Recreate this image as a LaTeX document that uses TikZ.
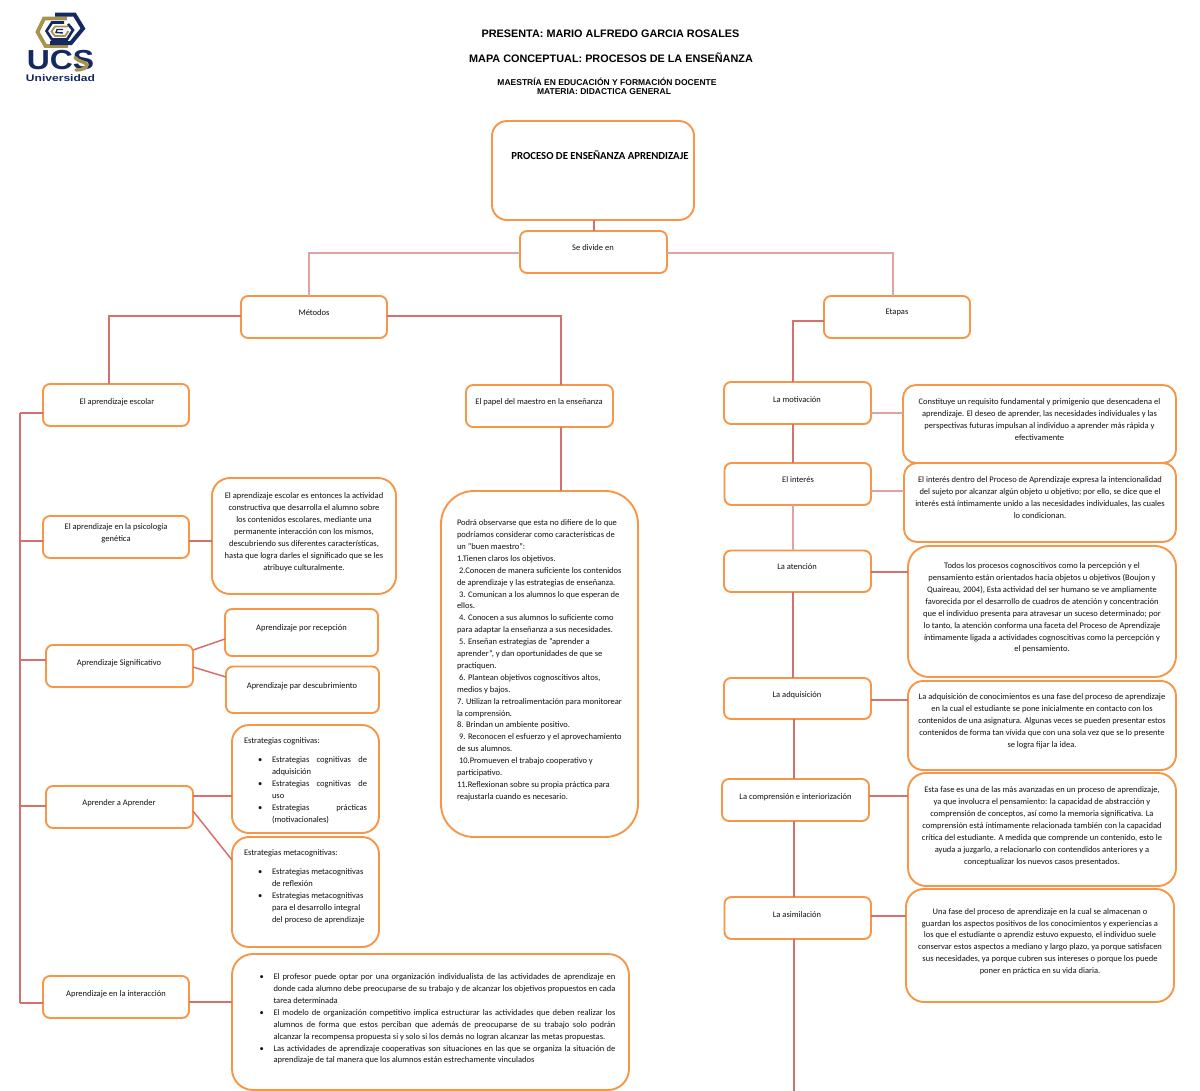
\documentclass[tikz,border=0pt]{standalone}
\usepackage{fontspec}
\setmainfont{Carlito}
\newfontfamily\headfont{Liberation Sans}
\definecolor{boxor}{HTML}{F79646}
\definecolor{connred}{HTML}{D4716F}
\definecolor{connpale}{HTML}{DFA3A1}
\definecolor{navyucs}{HTML}{14295F}
\definecolor{golducs}{HTML}{A8924C}
\definecolor{inktxt}{HTML}{111111}
\tikzset{
  boxshape/.style={draw=boxor,line width=1.9bp,inner sep=0pt,outer sep=0pt,fill=white},
  txtbase/.style={inner sep=0pt,outer sep=0pt,text=inktxt,font=\fontsize{8.5bp}{11.9bp}\selectfont,yshift=5.3bp,execute at begin node=\strut},
  txtc/.style={txtbase,anchor=north,align=center},
  txtl/.style={txtbase,anchor=north west,align=left},
  txtcm/.style={txtc,yshift=-2bp},
  txtlm/.style={txtl,yshift=-2bp},
  headtxt/.style={inner sep=0pt,outer sep=0pt,text=black,anchor=center},
  conn/.style={draw=connred,line width=1.5bp},
  connp/.style={draw=connpale,line width=1.5bp},
  loganavy/.style={draw=navyucs,line width=3.2bp,miter limit=6},
  logagold/.style={draw=golducs,line width=3.8bp,miter limit=6},
}
\newcommand{\bx}[6]{\node[boxshape,rounded corners=#6 bp,minimum width={(#4-#2)*1bp},minimum height={(#5-#3)*1bp}] (#1) at ({(#2+#4)/2},{(#3+#5)/2}) {};}
\newcommand{\jw}[2]{\makebox[#1bp][s]{#2}}
\newcommand{\bu}{\makebox[14.5bp][l]{\hspace{0.5bp}•}}
\newcommand{\nb}{\makebox[14.5bp]{}}
\begin{document}
\begin{tikzpicture}[x=1bp,y=-1bp]
\useasboundingbox (0,0) rectangle (1200,1091);
\fill[white] (0,0) rectangle (1200,1091);
% logo
\draw[logagold] (67,18.5) -- (44,18.5) -- (37.5,32) -- (45.5,46) -- (68,46);
\draw[loganavy,line width=4bp] (55,14.5) -- (74.5,14.5) -- (83,28.5) -- (71,43) -- (50,43);
\draw[loganavy,line width=2.6bp] (64,22.5) -- (52,22.5) -- (46.5,31) -- (52,39.5) -- (67,39.5) -- (73,30) -- (68,24);
\draw[logagold,line width=1.8bp] (68,26.5) -- (55,26.5) -- (51.5,31.5) -- (55,36) -- (65,36) -- (68.5,31);
\draw[loganavy,line width=1.4bp] (63,29.5) -- (57,29.5) -- (56,32.5) -- (63,33);
\node[headtxt,text=navyucs,font=\headfont\bfseries\fontsize{27.5bp}{28bp}\selectfont] (logoucs) at (60.5,60.5) {\scalebox{1.16}[1]{UCS}};
\draw[golducs,line width=3.4bp,line cap=round] (75,57.5) .. controls (78,62) and (85,61) .. (87,65) .. controls (87,68) and (82,70) .. (76,70);
\node[headtxt,text=navyucs,font=\headfont\bfseries\fontsize{9.5bp}{10bp}\selectfont] (logouni) at (60.5,78) {\scalebox{1.27}[1]{Universidad}};
% titles
\node[headtxt,font=\headfont\bfseries\fontsize{10.85bp}{12bp}\selectfont] (t1) at (610.5,33.5) {PRESENTA: MARIO ALFREDO GARCIA ROSALES};
\node[headtxt,font=\headfont\bfseries\fontsize{10.85bp}{12bp}\selectfont] (t2) at (611,58) {MAPA CONCEPTUAL: PROCESOS DE LA ENSEÑANZA};
\node[headtxt,font=\headfont\bfseries\fontsize{8.5bp}{11bp}\selectfont] (t3) at (607,81.5) {MAESTRÍA EN EDUCACIÓN Y FORMACIÓN DOCENTE};
\node[headtxt,font=\headfont\bfseries\fontsize{8.5bp}{11bp}\selectfont] (t4) at (604,92) {MATERIA: DIDACTICA GENERAL};
% boxes
\bx{proc}{492}{121}{694}{220}{15}
\bx{divide}{520}{231}{667}{273}{7}
\bx{metodos}{241}{296}{387}{338}{7}
\bx{etapas}{824}{296}{970}{338}{7}
\bx{escolar}{43}{384}{189}{426}{7}
\bx{psico}{43}{516}{189}{558}{7}
\bx{psicotx}{212}{478}{396}{594}{18}
\bx{signif}{46}{645}{193}{687}{7}
\bx{recep}{225}{609}{378}{656}{7}
\bx{descub}{226}{666.5}{379}{713}{7}
\bx{aprap}{46}{786}{193}{828}{7}
\bx{cogn}{232}{725}{379}{833}{17}
\bx{meta}{232}{837}{379}{947}{17}
\bx{inter}{43}{976}{189}{1018}{7}
\bx{intertx}{232}{954}{629}{1090}{21}
\bx{papel}{466}{385}{613}{427}{7}
\bx{lista}{441}{491}{638}{837}{33}
\bx{motiv}{724}{382}{871}{424}{7}
\bx{motivtx}{903}{385}{1176}{463}{13}
\bx{interes}{724.5}{463}{871}{505}{7}
\bx{interestx}{904}{463}{1176}{542}{13}
\bx{atenc}{724}{550.5}{871}{592}{7}
\bx{atenctx}{908}{546}{1176}{677}{21}
\bx{adq}{724}{678}{871}{719}{7}
\bx{adqtx}{908}{681}{1176}{770}{15}
\bx{compr}{722}{779}{869}{821}{7}
\bx{comprtx}{908}{773}{1176}{886}{18}
\bx{asim}{724.5}{897}{871}{939}{7}
\bx{asimtx}{906}{889}{1174}{1002}{18}
% text in boxes
\node[txtc,font=\bfseries\fontsize{10.75bp}{12bp}\selectfont,text=black] (proct) at (600,156) {PROCESO DE ENSEÑANZA APRENDIZAJE};
\node[txtc] (dividet) at (593,247) {Se divide en};
\node[txtc] (metodost) at (314,312) {Métodos};
\node[txtc] (etapast) at (897,311) {Etapas};
\node[txtc] (escolart) at (117,401) {El aprendizaje escolar};
\node[txtcm] (psicot) at (116,527) {El aprendizaje en la psicología\\genética};
\node[txtcm] (psicotxt) at (304,496) {El aprendizaje escolar es entonces la actividad\\constructiva que desarrolla el alumno sobre\\los contenidos escolares, mediante una\\permanente interacción con los mismos,\\descubriendo sus diferentes características,\\hasta que logra darles el significado que se les\\atribuye culturalmente.};
\node[txtc] (signift) at (119,662) {Aprendizaje Significativo};
\node[txtc] (recept) at (301.5,627.5) {Aprendizaje por recepción};
\node[txtc] (descubt) at (302,685) {Aprendizaje par descubrimiento};
\node[txtc] (apret) at (119,802) {Aprender a Aprender};
\node[txtl] (cognt) at (244,740) {Estrategias cognitivas:};
\node[txtlm] (cognl) at (257.5,760) {\bu\jw{95}{Estrategias cognitivas de}\\\nb adquisición\\\bu\jw{95}{Estrategias cognitivas de}\\\nb uso\\\bu\jw{95}{Estrategias prácticas}\\\nb (motivacionales)};
\node[txtl] (metat) at (244,852) {Estrategias metacognitivas:};
\node[txtlm] (metal) at (257.5,872) {\bu Estrategias metacognitivas\\\nb de reflexión\\\bu Estrategias metacognitivas\\\nb para el desarrollo integral\\\nb del proceso de aprendizaje};
\node[txtc] (intert) at (116,993) {Aprendizaje en la interacción};
\node[txtlm] (intertxt) at (259,977) {\bu\jw{342}{El profesor puede optar por una organización individualista de las actividades de aprendizaje en}\\\nb\jw{342}{donde cada alumno debe preocuparse de su trabajo y de alcanzar los objetivos propuestos en cada}\\\nb tarea determinada\\\bu\jw{342}{El modelo de organización competitivo implica estructurar las actividades que deben realizar los}\\\nb\jw{342}{alumnos de forma que estos perciban que además de preocuparse de su trabajo solo podrán}\\\nb alcanzar la recompensa propuesta si y solo si los demás no logran alcanzar las metas propuestas.\\\bu\jw{342}{Las actividades de aprendizaje cooperativas son situaciones en las que se organiza la situación de}\\\nb aprendizaje de tal manera que los alumnos están estrechamente vinculados};
\node[txtc] (papelt) at (539,401) {El papel del maestro en la enseñanza};
\node[txtlm] (listat) at (457,523) {Podrá observarse que esta no difiere de lo que\\podríamos considerar como características de\\un "buen maestro":\\1.Tienen claros los objetivos.\\\hspace*{2bp}2.Conocen de manera suficiente los contenidos\\de aprendizaje y las estrategias de enseñanza.\\\hspace*{2bp}3. Comunican a los alumnos lo que esperan de\\ellos.\\\hspace*{2bp}4. Conocen a sus alumnos lo suficiente como\\para adaptar la enseñanza a sus necesidades.\\\hspace*{2bp}5. Enseñan estrategias de "aprender a\\aprender", y dan oportunidades de que se\\practiquen.\\\hspace*{2bp}6. Plantean objetivos cognoscitivos altos,\\medios y bajos.\\7. Utilizan la retroalimentación para monitorear\\la comprensión.\\8. Brindan un ambiente positivo.\\\hspace*{2bp}9. Reconocen el esfuerzo y el aprovechamiento\\de sus alumnos.\\\hspace*{2bp}10.Promueven el trabajo cooperativo y\\participativo.\\11.Reflexionan sobre su propia práctica para\\reajustarla cuando es necesario.};
\node[txtc] (motivt) at (797,399) {La motivación};
\node[txtcm] (motivtxt) at (1039.5,402) {Constituye un requisito fundamental y primigenio que desencadena el\\aprendizaje. El deseo de aprender, las necesidades individuales y las\\perspectivas futuras impulsan al individuo a aprender más rápida y\\efectivamente};
\node[txtc] (interest) at (798,479) {El interés};
\node[txtcm] (interestxt) at (1040,480) {El interés dentro del Proceso de Aprendizaje expresa la intencionalidad\\del sujeto por alcanzar algún objeto u objetivo; por ello, se dice que el\\interés está íntimamente unido a las necesidades individuales, las cuales\\lo condicionan.};
\node[txtc] (atenct) at (797,566.5) {La atención};
\node[txtcm] (atenctxt) at (1042,566) {Todos los procesos cognoscitivos como la percepción y el\\pensamiento están orientados hacia objetos u objetivos (Boujon y\\Quaireau, 2004), Esta actividad del ser humano se ve ampliamente\\favorecida por el desarrollo de cuadros de atención y concentración\\que el individuo presenta para atravesar un suceso determinado; por\\lo tanto, la atención conforma una faceta del Proceso de Aprendizaje\\íntimamente ligada a actividades cognoscitivas como la percepción y\\el pensamiento.};
\node[txtc] (adqt) at (797,694) {La adquisición};
\node[txtcm] (adqtxt) at (1042,697) {La adquisición de conocimientos es una fase del proceso de aprendizaje\\en la cual el estudiante se pone inicialmente en contacto con los\\contenidos de una asignatura. Algunas veces se pueden presentar estos\\contenidos de forma tan vívida que con una sola vez que se lo presente\\se logra fijar la idea.};
\node[txtc] (comprt) at (795.5,796) {La comprensión e interiorización};
\node[txtcm] (comprtxt) at (1042,790) {Esta fase es una de las más avanzadas en un proceso de aprendizaje,\\ya que involucra el pensamiento: la capacidad de abstracción y\\comprensión de conceptos, así como la memoria significativa. La\\comprensión está íntimamente relacionada también con la capacidad\\crítica del estudiante. A medida que comprende un contenido, esto le\\ayuda a juzgarlo, a relacionarlo con contendidos anteriores y a\\conceptualizar los nuevos casos presentados.};
\node[txtc] (asimt) at (797,914) {La asimilación};
\node[txtcm] (asimtxt) at (1040,911.5) {Una fase del proceso de aprendizaje en la cual se almacenan o\\guardan los aspectos positivos de los conocimientos y experiencias a\\los que el estudiante o aprendiz estuvo expuesto, el individuo suele\\conservar estos aspectos a mediano y largo plazo, ya porque satisfacen\\sus necesidades, ya porque cubren sus intereses o porque los puede\\poner en práctica en su vida diaria.};
% named free ends
\coordinate (bustop) at (20,413);
\coordinate (busbot) at (20,1003);
\coordinate (etaend) at (794,1091);
% connectors
\draw[conn] (594,0 |- proc.south) -- (594,0 |- divide.north);
\draw[connp] (divide.west |- 0,253) -| (metodos.north -| 309,0);
\draw[connp] (divide.east |- 0,253) -| (893,0 |- etapas.north);
\draw[conn] (metodos.west |- 0,316) -| (109,0 |- escolar.north);
\draw[conn] (metodos.east |- 0,316) -| (561,0 |- papel.north);
\draw[conn] (561,0 |- papel.south) -- (561,0 |- lista.north);
\draw[conn] (etapas.west |- 0,321) -| (793,0 |- motiv.north);
\draw[conn] (793,0 |- motiv.south) -- (793,0 |- interes.north);
\draw[connp] (793,0 |- interes.south) -- (793,0 |- atenc.north);
\draw[conn] (793,0 |- atenc.south) -- (793,0 |- adq.north);
\draw[conn] (794,0 |- adq.south) -- (794,0 |- compr.north);
\draw[conn] (794,0 |- compr.south) -- (794,0 |- asim.north);
\draw[conn] (794,0 |- asim.south) -- (etaend);
\draw[connp] (motiv.east |- 0,413) -- (motivtx.west |- 0,413);
\draw[connp] (interes.east |- 0,491) -- (interestx.west |- 0,491);
\draw[conn] (atenc.east |- 0,572) -- (atenctx.west |- 0,572);
\draw[conn] (adq.east |- 0,700) -- (adqtx.west |- 0,700);
\draw[conn] (compr.east |- 0,796) -- (comprtx.west |- 0,796);
\draw[conn] (asim.east |- 0,916) -- (asimtx.west |- 0,916);
\draw[conn] (bustop) -- (busbot);
\draw[conn] (bustop) -- (escolar.west |- bustop);
\draw[conn] (bustop |- 0,541) -- (psico.west |- 0,541);
\draw[conn] (bustop |- 0,660) -- (signif.west |- 0,660);
\draw[conn] (bustop |- 0,806) -- (aprap.west |- 0,806);
\draw[conn] (busbot) -- (inter.west |- busbot);
\draw[conn] (psico.east |- 0,541) -- (psicotx.west |- 0,541);
\draw[conn] (signif.east |- 0,650) -- (recep.west |- 0,639);
\draw[conn] (signif.east |- 0,667) -- (descub.west |- 0,677);
\draw[conn] (aprap.east |- 0,796) -- (cogn.west |- 0,796);
\draw[conn] (aprap.east |- 0,811) -- (meta.west |- 0,860);
\draw[conn] (inter.east |- 0,1002) -- (intertx.west |- 0,1002);
\end{tikzpicture}
\end{document}
